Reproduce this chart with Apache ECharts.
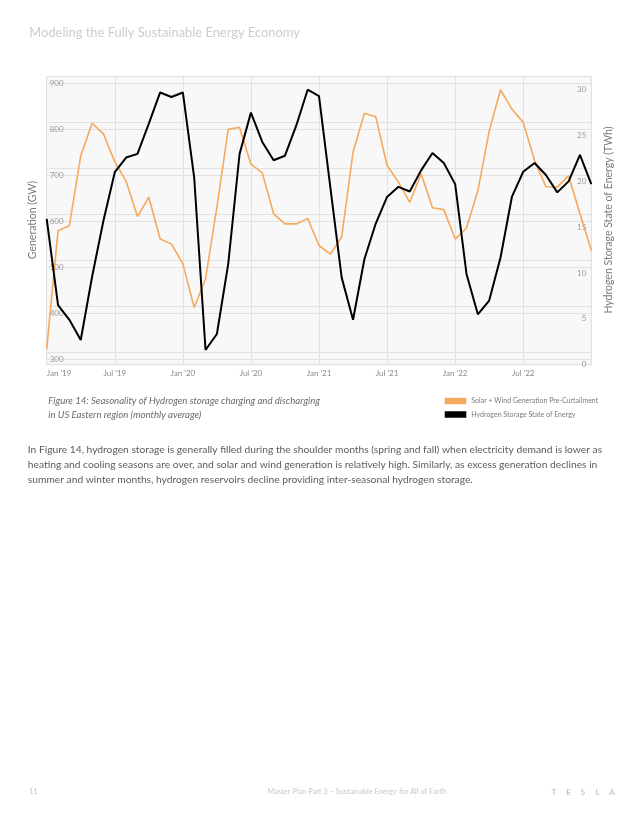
<!DOCTYPE html>
<html><head><meta charset="utf-8">
<script src="https://cdn.jsdelivr.net/npm/echarts@6/dist/echarts.min.js"></script>
<style>html,body{margin:0;padding:0;background:#fff}#c{width:638px;height:826px}</style>
</head><body><div id="c"></div>
<script>
// ---- data ----
const months = ["Jan 2019","Feb 2019","Mar 2019","Apr 2019","May 2019","Jun 2019","Jul 2019","Aug 2019","Sep 2019","Oct 2019","Nov 2019","Dec 2019",
"Jan 2020","Feb 2020","Mar 2020","Apr 2020","May 2020","Jun 2020","Jul 2020","Aug 2020","Sep 2020","Oct 2020","Nov 2020","Dec 2020",
"Jan 2021","Feb 2021","Mar 2021","Apr 2021","May 2021","Jun 2021","Jul 2021","Aug 2021","Sep 2021","Oct 2021","Nov 2021","Dec 2021",
"Jan 2022","Feb 2022","Mar 2022","Apr 2022","May 2022","Jun 2022","Jul 2022","Aug 2022","Sep 2022","Oct 2022","Nov 2022","Dec 2022","Jan 2023"];
const tickLabels = ["Jan '19","Jul '19","Jan '20","Jul '20","Jan '21","Jul '21","Jan '22","Jul '22"];
const generationGW = [322,579,590,742,813,790,729,687,610,652,561,550,
507,412,474,630,800,804,724,705,616,594,594,606,
547,528,566,750,835,827,721,685,641,703,629,625,
561,585,666,796,886,844,815,732,675,674,699,616,536];
const hydrogenTWh = [15.9,6.5,4.9,2.7,9.6,15.7,21.0,22.6,23.0,26.3,29.7,29.2,
29.7,20.4,1.6,3.35,11.0,23.0,27.5,24.3,22.3,22.8,26.1,30.0,
29.3,19.35,9.5,4.9,11.5,15.4,18.3,19.4,18.9,21.2,23.1,22.0,
19.7,9.9,5.5,7.0,11.7,18.3,21.05,22.0,20.7,18.8,20.0,22.9,19.7];
const seriesNames = ["Solar + Wind Generation Pre-Curtailment","Hydrogen Storage State of Energy"];

const chart = echarts.init(document.getElementById('c'));
const L = 46.7, W = 544.6;
const FONT = 'Lato, "Open Sans", sans-serif';
const gridLine = {show:true, lineStyle:{color:'#e2e2e2', width:1}};
const txt = (x,y,text,size,color,extra) => Object.assign({
  type:'text', x:x, y:y, silent:true,
  style:Object.assign({text:text, fontSize:size, fontFamily:FONT, fill:color,
    align:'left', textAlign:'left', verticalAlign:'middle', textVerticalAlign:'middle'}, (extra||{}).style||{})
}, (extra||{}).el||{});
const C = {align:'center', textAlign:'center'};

chart.setOption({
  backgroundColor:'#ffffff',
  animation:false,
  grid:[
    {left:L, top:76.7, width:W, height:288, show:true, backgroundColor:'#f8f8f8', borderColor:'#e3e3e3', borderWidth:1},
    {left:L, top:83.3, width:W, height:275.7},
    {left:L, top:89.7, width:W, height:275}
  ],
  xAxis:[
    {gridIndex:0, type:'value', min:0, max:48, interval:6,
     axisLine:{show:false}, axisTick:{show:false}, splitLine:gridLine,
     axisLabel:{show:true, margin:5, fontSize:8, color:'#8a8a8a', fontFamily:FONT,
       showMaxLabel:false, alignMinLabel:'left',
       formatter:v => tickLabels[Math.round(v/6)] || ''}},
    {gridIndex:1, type:'value', min:0, max:48, show:false},
    {gridIndex:2, type:'value', min:0, max:48, show:false}
  ],
  yAxis:[
    {gridIndex:0, type:'value', inverse:true, min:0, max:288/45.97, interval:1,
     axisLine:{show:false}, axisTick:{show:false}, axisLabel:{show:false}, splitLine:gridLine},
    {gridIndex:1, type:'value', position:'left', min:300, max:900, interval:100,
     axisLine:{show:false}, axisTick:{show:false}, splitLine:gridLine,
     axisLabel:{inside:true, margin:3, fontSize:8, color:'#9a9a9a', fontFamily:FONT}},
    {gridIndex:2, type:'value', position:'right', min:0, max:30, interval:5,
     axisLine:{show:false}, axisTick:{show:false}, splitLine:{show:false},
     axisLabel:{inside:true, margin:5, fontSize:8, color:'#9a9a9a', fontFamily:FONT}}
  ],
  legend:{
    left:439.7, top:392.5, orient:'vertical', itemGap:6.5, itemWidth:21.6, itemHeight:6.5,
    icon:'rect', selectedMode:false,
    textStyle:{fontSize:7, color:'#7a7a7a', fontFamily:FONT},
    data:seriesNames
  },
  series:[
    {name:seriesNames[0], type:'line', xAxisIndex:1, yAxisIndex:1, symbol:'none', clip:false,
     data:generationGW.map((v,i)=>[i,v]),
     lineStyle:{color:'#f6a95c', width:1.6}, itemStyle:{color:'#f6a95c'}},
    {name:seriesNames[1], type:'line', xAxisIndex:2, yAxisIndex:2, symbol:'none', clip:false,
     data:hydrogenTWh.map((v,i)=>[i,v]),
     lineStyle:{color:'#000000', width:2}, itemStyle:{color:'#000000'}, z:3}
  ],
  graphic:[
    txt(29.3, 33.3, 'Modeling the Fully Sustainable Energy Economy', 12.9, '#cdcdcd'),
    txt(33, 220, 'Generation (GW)', 10.5, '#7a7a7a', {el:{rotation:Math.PI/2}, style:C}),
    txt(609, 220, 'Hydrogen Storage State of Energy (TWh)', 10.5, '#7a7a7a', {el:{rotation:Math.PI/2}, style:C}),
    txt(48.3, 400.5, 'Figure 14: Seasonality of Hydrogen storage charging and discharging', 9.6, '#6a6a6a', {style:{fontStyle:'italic'}}),
    txt(48.3, 414.9, 'in US Eastern region (monthly average)', 9.6, '#6a6a6a', {style:{fontStyle:'italic'}}),
    txt(27.8, 449.2, 'In Figure 14, hydrogen storage is generally filled during the shoulder months (spring and fall) when electricity demand is lower as', 10.25, '#5c5c5c'),
    txt(27.8, 464.8, 'heating and cooling seasons are over, and solar and wind generation is relatively high. Similarly, as excess generation declines in', 10.25, '#5c5c5c'),
    txt(27.8, 479.8, 'summer and winter months, hydrogen reservoirs decline providing inter-seasonal hydrogen storage.', 10.25, '#5c5c5c'),
    txt(29, 792, '11', 7.4, '#c8c8c8'),
    txt(357, 792, 'Master Plan Part 3 – Sustainable Energy for All of Earth', 7.4, '#c8c8c8', {style:C}),
    txt(554, 792, 'T', 8, '#c8c8c8', {style:{align:'center', textAlign:'center', fontWeight:'bold'}}),
    txt(568.5, 792, 'E', 8, '#c8c8c8', {style:{align:'center', textAlign:'center', fontWeight:'bold'}}),
    txt(583, 792, 'S', 8, '#c8c8c8', {style:{align:'center', textAlign:'center', fontWeight:'bold'}}),
    txt(597.5, 792, 'L', 8, '#c8c8c8', {style:{align:'center', textAlign:'center', fontWeight:'bold'}}),
    txt(612, 792, 'A', 8, '#c8c8c8', {style:{align:'center', textAlign:'center', fontWeight:'bold'}})
  ]
});
</script></body></html>
